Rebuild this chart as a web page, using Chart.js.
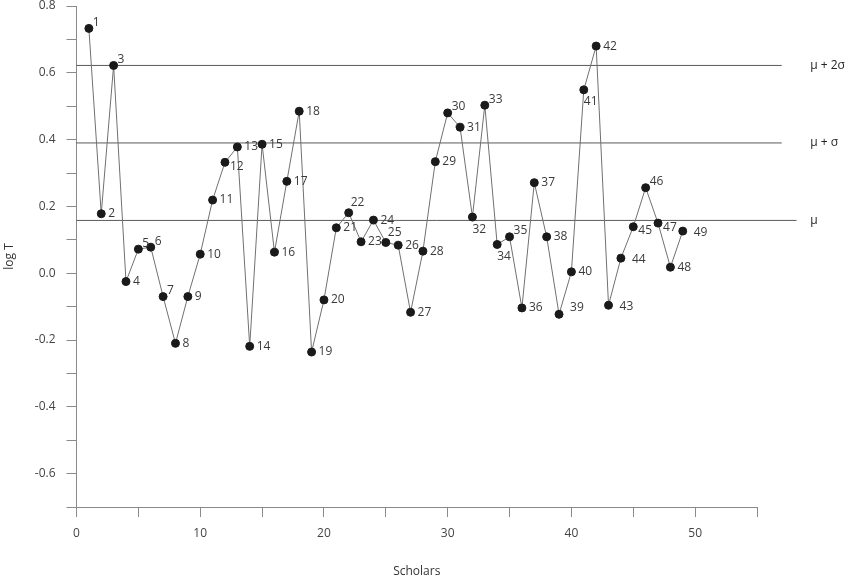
<!DOCTYPE html>
<html>
<head>
<meta charset="utf-8">
<script src="https://cdn.jsdelivr.net/npm/chart.js@4.4.1/dist/chart.umd.min.js"></script>
<style>
html,body{margin:0;padding:0;background:#fff;}
#wrap{width:850px;height:578px;position:relative;}
</style>
</head>
<body>
<div id="wrap"><canvas id="c"></canvas></div>
<script>
// ---- data ----
const scholars = [1,2,3,4,5,6,7,8,9,10,11,12,13,14,15,16,17,18,19,20,21,22,23,24,25,
                  26,27,28,29,30,31,32,33,34,35,36,37,38,39,40,41,42,43,44,45,46,47,48,49];
const logT = [0.733, 0.178, 0.622, -0.025, 0.072, 0.078, -0.070, -0.210, -0.070, 0.057,
              0.219, 0.332, 0.378, -0.219, 0.386, 0.063, 0.275, 0.485, -0.236, -0.080,
              0.136, 0.181, 0.094, 0.159, 0.092, 0.084, -0.117, 0.066, 0.334, 0.480,
              0.437, 0.168, 0.503, 0.086, 0.109, -0.104, 0.271, 0.109, -0.123, 0.004,
              0.549, 0.680, -0.096, 0.045, 0.139, 0.256, 0.150, 0.018, 0.126];
const mu = 0.158;
const sigma = 0.232;
const refNames = ['μ', 'μ + σ', 'μ + 2σ'];
const refValues = [mu, mu + sigma, mu + 2 * sigma];
const refEnds = [58.2, 57, 57];
const xAxisTitle = 'Scholars';
const yAxisTitle = 'log T';

// label placement codes (style only)
const labelPlace = ['u','r','u','r','u','u','u','r','r','r',
                    'r','d','r','r','r','r','r','r','r','r',
                    'r','U','r','r','U','r','r','r','r','u',
                    'r','b','u','b','u','r','r','r','Ru','r',
                    'b','r','R','R','d','u','d','r','R'];
const placeOffsets = {
  r:  {dx: 7,  dy: 0,  align: 'left'},
  R:  {dx: 11, dy: 1,  align: 'left'},
  Ru: {dx: 11, dy: -7, align: 'left'},
  u:  {dx: 4,  dy: -6, align: 'left'},
  U:  {dx: 2,  dy: -10, align: 'left'},
  d:  {dx: 5,  dy: 4,  align: 'left'},
  b:  {dx: 0,  dy: 12, align: 'left'}
};

const FONT = "'Open Sans', 'Noto Sans', sans-serif";

const pointLabels = {
  id: 'pointLabels',
  afterDatasetsDraw(chart) {
    const meta = chart.getDatasetMeta(0);
    const ctx = chart.ctx;
    ctx.save();
    ctx.font = '12px ' + FONT;
    ctx.fillStyle = '#3a3a3a';
    ctx.textBaseline = 'middle';
    meta.data.forEach((el, i) => {
      const p = placeOffsets[labelPlace[i]] || placeOffsets.r;
      ctx.textAlign = p.align;
      ctx.fillText(String(scholars[i]), el.x + p.dx, el.y + p.dy);
    });
    ctx.restore();
  }
};

const refLabels = {
  id: 'refLabels',
  afterDraw(chart) {
    const ctx = chart.ctx;
    const ys = chart.scales.y;
    const xs = chart.scales.x;
    ctx.save();
    ctx.font = '12px ' + FONT;
    ctx.fillStyle = '#222';
    ctx.textBaseline = 'middle';
    ctx.textAlign = 'left';
    const xp = xs.getPixelForValue(59.3);
    refValues.forEach((v, i) => {
      ctx.fillText(refNames[i], xp, ys.getPixelForValue(v));
    });
    ctx.restore();
  }
};

const refDatasets = refValues.map((v, i) => ({
  type: 'line',
  label: refNames[i],
  data: [{x: 0, y: v}, {x: refEnds[i], y: v}],
  borderColor: '#5a5a5a',
  borderWidth: 1,
  pointRadius: 0,
  clip: false,
  order: 2
}));

new Chart(document.getElementById('c'), {
  type: 'line',
  data: {
    datasets: [{
      label: 'log T',
      data: scholars.map((s, i) => ({x: s, y: logT[i]})),
      borderColor: '#707070',
      borderWidth: 1,
      pointRadius: 4,
      pointBorderWidth: 1,
      pointBackgroundColor: '#1a1a1a',
      pointBorderColor: '#1a1a1a',
      tension: 0,
      order: 1
    }, ...refDatasets]
  },
  options: {
    responsive: true,
    maintainAspectRatio: false,
    animation: false,
    layout: {padding: {top: 6, right: 93, left: 0, bottom: 0}},
    plugins: {legend: {display: false}, tooltip: {enabled: false}},
    scales: {
      x: {
        type: 'linear',
        min: 0, max: 55,
        afterFit(scale) { scale.height = 71; scale.paddingLeft = 0; scale.paddingRight = 0; },
        border: {display: true, color: '#8a8a8a', width: 1},
        grid: {display: true, drawOnChartArea: false, drawTicks: true, tickLength: 10, color: '#8a8a8a'},
        ticks: {
          stepSize: 5,
          padding: 9,
          color: '#444',
          font: {family: FONT, size: 12},
          maxRotation: 0,
          autoSkip: false,
          callback: (v) => (Math.round(v) % 10 === 0 ? String(Math.round(v)) : '')
        },
        title: {display: true, text: xAxisTitle, color: '#333', font: {family: FONT, size: 12}, padding: {top: 0, bottom: -1}}
      },
      y: {
        type: 'linear',
        min: -0.7, max: 0.8,
        afterFit(scale) { scale.width = 76.5; scale.paddingTop = 0; scale.paddingBottom = 0; },
        border: {display: true, color: '#8a8a8a', width: 1},
        grid: {display: true, drawOnChartArea: false, drawTicks: true, tickLength: 10, color: '#8a8a8a'},
        ticks: {
          stepSize: 0.1,
          padding: 11,
          color: '#444',
          font: {family: FONT, size: 12},
          autoSkip: false,
          callback: (v) => {
            const k = Math.round(v * 10);
            return (k % 2 === 0) ? (k / 10).toFixed(1) : '';
          }
        },
        title: {display: true, text: yAxisTitle, color: '#333', font: {family: FONT, size: 12}, padding: {top: 2, bottom: 0}}
      }
    }
  },
  plugins: [pointLabels, refLabels]
});
</script>
</body>
</html>
